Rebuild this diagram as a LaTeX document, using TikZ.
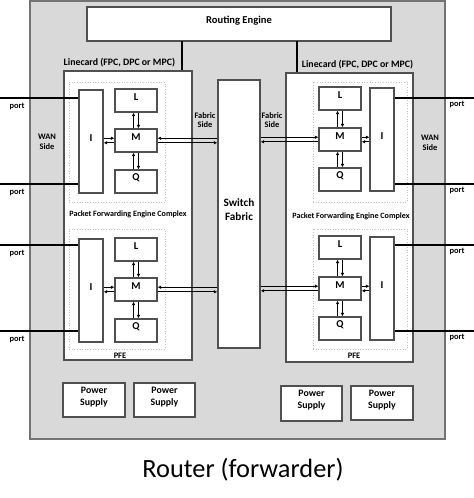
\documentclass[tikz,border=0pt]{standalone}
\usepackage{fontspec}
\setmainfont{Carlito}
\usetikzlibrary{arrows.meta,fit}

\definecolor{chassis}{HTML}{D9D9D9}
\definecolor{edge}{HTML}{505050}

\tikzset{
  blk/.style={draw=edge, fill=white, line width=0.7pt, inner sep=0pt,
    align=center, font=\bfseries\fontsize{6}{7}\selectfont},
  pfebox/.style={draw=black!25, densely dotted, line width=0.5pt, inner sep=0pt},
  lbl/.style={font=\bfseries\fontsize{4.8}{5.6}\selectfont, align=center, inner sep=0pt},
  wire/.style={line width=0.45pt, -{Latex[length=2pt,width=2pt]}},
  portline/.style={line width=0.9pt},
}

\begin{document}
\begin{tikzpicture}[x=0.02cm,y=-0.02cm]
  \useasboundingbox (0,0) rectangle (474,498);
  % chassis
  \draw[draw=edge!80, fill=chassis, line width=1pt] (30,1) rectangle (445,439);

  \node[blk, fit={(87,7)(391,41)}] (re) {Routing Engine};
  \node[blk, fit={(64,71)(192,360)}] (lcL) {};
  \node[blk, fit={(286,73)(413,362)}] (lcR) {};
  \node[blk, fit={(218,80)(260,348)}, font=\bfseries\fontsize{6.4}{8}\selectfont] (sf) {Switch\\Fabric};

  \node[lbl, font=\bfseries\fontsize{5.6}{6.5}\selectfont, anchor=south west] at ([yshift=1.5pt]lcL.north west) {Linecard (FPC, DPC or MPC)};
  \node[lbl, font=\bfseries\fontsize{5.6}{6.5}\selectfont, anchor=south east] at ([yshift=1.5pt]lcR.north east) {Linecard (FPC, DPC or MPC)};

  \coordinate (reL) at (182,41);
  \coordinate (reR) at (297,41);
  \draw[portline] (reL) -- (reL |- lcL.north);
  \draw[portline] (reR) -- (reR |- lcR.north);

  % left PFEs
  \foreach \k/\dy in {1/0,2/149} {
    \node[pfebox, fit={(69,82+\dy-2*\k+2)(165,202+\dy-2*\k+2)}] (lpfe\k) {};
    \node[blk, fit={(79,90+\dy)(103,193+\dy)}] (lI\k) {I};
    \node[blk, fit={(115,89+\dy)(157,112+\dy)}] (lL\k) {L};
    \node[blk, fit={(115,129+\dy)(157,152+\dy)}] (lM\k) {M};
    \node[blk, fit={(115,170+\dy)(157,193+\dy)}] (lQ\k) {Q};
    \draw[wire] ([yshift=1.3pt]lM\k.west -| lI\k.east) -- ([yshift=1.3pt]lM\k.west);
    \draw[wire] ([yshift=-1.3pt]lM\k.west) -- ([yshift=-1.3pt]lM\k.west -| lI\k.east);
    \draw[wire] ([xshift=-1.4pt]lM\k.north) -- ([xshift=-1.4pt]lL\k.south);
    \draw[wire] ([xshift=1.4pt]lL\k.south) -- ([xshift=1.4pt]lM\k.north);
    \draw[wire] ([xshift=-1.4pt]lQ\k.north) -- ([xshift=-1.4pt]lM\k.south);
    \draw[wire] ([xshift=1.4pt]lM\k.south) -- ([xshift=1.4pt]lQ\k.north);
    \draw[wire] ([yshift=1.3pt]lM\k.east -| sf.west) -- ([yshift=1.3pt]lM\k.east);
    \draw[wire] ([yshift=-1.3pt]lM\k.east) -- ([yshift=-1.3pt]lM\k.east -| sf.west);
    \coordinate (lpa\k) at (0,98+\dy-2*\k+2);
    \coordinate (lpb\k) at (0,184+\dy-2*\k+2);
    \draw[portline] (lpa\k) -- (lpa\k -| lI\k.west);
    \draw[portline] (lpb\k) -- (lpb\k -| lI\k.west);
    \node[lbl] at (17,106+\dy-2*\k+2) {port};
    \node[lbl] at (17,192+\dy-2*\k+2) {port};
  }

  % right PFEs
  \foreach \k/\dy in {1/0,2/149} {
    \node[pfebox, fit={(313,82+\dy-2*\k+2)(407,202+\dy-2*\k+2)}] (rpfe\k) {};
    \node[blk, fit={(370,88+\dy)(394,191+\dy)}] (rI\k) {I};
    \node[blk, fit={(319,87+\dy)(361,110+\dy)}] (rL\k) {L};
    \node[blk, fit={(319,128+\dy)(361,151+\dy)}] (rM\k) {M};
    \node[blk, fit={(319,168+\dy)(361,191+\dy)}] (rQ\k) {Q};
    \draw[wire] ([yshift=1.3pt]rM\k.east) -- ([yshift=1.3pt]rM\k.east -| rI\k.west);
    \draw[wire] ([yshift=-1.3pt]rM\k.east -| rI\k.west) -- ([yshift=-1.3pt]rM\k.east);
    \draw[wire] ([xshift=-1.4pt]rM\k.north) -- ([xshift=-1.4pt]rL\k.south);
    \draw[wire] ([xshift=1.4pt]rL\k.south) -- ([xshift=1.4pt]rM\k.north);
    \draw[wire] ([xshift=-1.4pt]rQ\k.north) -- ([xshift=-1.4pt]rM\k.south);
    \draw[wire] ([xshift=1.4pt]rM\k.south) -- ([xshift=1.4pt]rQ\k.north);
    \draw[wire] ([yshift=1.3pt]rM\k.west -| sf.east) -- ([yshift=1.3pt]rM\k.west);
    \draw[wire] ([yshift=-1.3pt]rM\k.west) -- ([yshift=-1.3pt]rM\k.west -| sf.east);
    \coordinate (rpa\k) at (474,98+\dy-2*\k+2);
    \coordinate (rpb\k) at (474,184+\dy-2*\k+2);
    \draw[portline] (rpa\k -| rI\k.east) -- (rpa\k);
    \draw[portline] (rpb\k -| rI\k.east) -- (rpb\k);
    \node[lbl] at (457,104+\dy-2*\k+2) {port};
    \node[lbl] at (457,190+\dy-2*\k+2) {port};
  }

  \node[lbl] at (47,142) {WAN\\Side};
  \node[lbl] at (430,143) {WAN\\Side};
  \node[lbl] at (205,120) {Fabric\\Side};
  \node[lbl] at (272,120) {Fabric\\Side};
  \node[lbl, font=\bfseries\fontsize{4.6}{5.5}\selectfont] at (128,214) {Packet Forwarding Engine Complex};
  \node[lbl, font=\bfseries\fontsize{4.6}{5.5}\selectfont] at (351,216) {Packet Forwarding Engine Complex};
  \node[lbl] at (120,356) {PFE};
  \node[lbl] at (354,356) {PFE};

  % power supplies
  \node[blk, fit={(63,383)(125,417)}, font=\bfseries\fontsize{5.6}{7}\selectfont] (ps1) {Power\\Supply};
  \node[blk, fit={(134,383)(195,417)}, font=\bfseries\fontsize{5.6}{7}\selectfont] (ps2) {Power\\Supply};
  \node[blk, fit={(281,386)(342,421)}, font=\bfseries\fontsize{5.6}{7}\selectfont] (ps3) {Power\\Supply};
  \node[blk, fit={(351,386)(413,420)}, font=\bfseries\fontsize{5.6}{7}\selectfont] (ps4) {Power\\Supply};

  \node[font=\fontsize{15}{18}\selectfont] (title) at (243,470) {Router (forwarder)};
\end{tikzpicture}
\end{document}
